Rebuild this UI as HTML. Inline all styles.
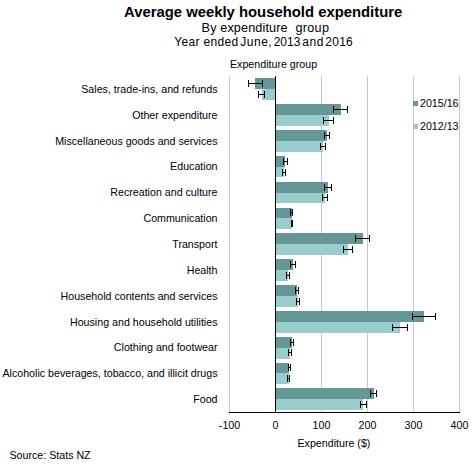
<!DOCTYPE html>
<html><head><meta charset="utf-8"><style>
html,body{margin:0;padding:0;background:#fff;}
body{width:476px;height:467px;overflow:hidden;position:relative;}
svg{position:absolute;left:0;top:0;}
text{font-family:"Liberation Sans",sans-serif;font-size:10.667px;fill:#000;}
.t{font-size:14.667px;font-weight:bold;}
.s{font-size:12px;}
</style></head><body>
<svg width="476" height="467" viewBox="0 0 476 467">
<rect width="476" height="467" fill="#fff"/>
<text class="t" x="124" y="16.6" style="font-size:14.85px">Average weekly household expenditure</text>
<text class="s" x="201.6" y="31.5" style="font-size:12.667px;letter-spacing:0.12px">By expenditure</text>
<text class="s" x="295.4" y="31.5" style="font-size:12.667px;letter-spacing:0.3px">group</text>
<text class="s" x="174.3" y="45.5" style="letter-spacing:0.3px">Year</text><text class="s" x="203.6" y="45.5" style="letter-spacing:0.3px">ended</text><text class="s" x="240.3" y="45.5" style="letter-spacing:0.5px">June,</text><text class="s" x="273.7" y="45.5">2013</text><text class="s" x="302.3" y="45.5" style="letter-spacing:0.6px">and</text><text class="s" x="325.2" y="45.5" style="letter-spacing:0.3px">2016</text>
<text x="230" y="67.6">Expenditure group</text>
<line x1="229.5" y1="76.0" x2="229.5" y2="412.0" stroke="#c9c9c9" stroke-width="1"/><line x1="321.5" y1="76.0" x2="321.5" y2="412.0" stroke="#c9c9c9" stroke-width="1"/><line x1="367.5" y1="76.0" x2="367.5" y2="412.0" stroke="#c9c9c9" stroke-width="1"/><line x1="413.5" y1="76.0" x2="413.5" y2="412.0" stroke="#c9c9c9" stroke-width="1"/><line x1="459.5" y1="76.0" x2="459.5" y2="412.0" stroke="#c9c9c9" stroke-width="1"/><rect x="255" y="78" width="20.0" height="11" fill="#659797"/><rect x="262" y="89" width="13.0" height="11" fill="#99cccc"/><rect x="276.0" y="104" width="65.0" height="11" fill="#659797"/><rect x="276.0" y="115" width="53.0" height="11" fill="#99cccc"/><rect x="276.0" y="130" width="51.0" height="11" fill="#659797"/><rect x="276.0" y="141" width="47.0" height="11" fill="#99cccc"/><rect x="276.0" y="156" width="9.0" height="11" fill="#659797"/><rect x="276.0" y="167" width="8.0" height="10" fill="#99cccc"/><rect x="276.0" y="182" width="52.0" height="11" fill="#659797"/><rect x="276.0" y="193" width="49.0" height="10" fill="#99cccc"/><rect x="276.0" y="208" width="16.0" height="10" fill="#659797"/><rect x="276.0" y="218" width="16.0" height="11" fill="#99cccc"/><rect x="276.0" y="233" width="87.0" height="11" fill="#659797"/><rect x="276.0" y="244" width="72.0" height="11" fill="#99cccc"/><rect x="276.0" y="259" width="17.0" height="11" fill="#659797"/><rect x="276.0" y="270" width="12.0" height="11" fill="#99cccc"/><rect x="276.0" y="285" width="21.0" height="11" fill="#659797"/><rect x="276.0" y="296" width="22.0" height="11" fill="#99cccc"/><rect x="276.0" y="311" width="148.0" height="11" fill="#659797"/><rect x="276.0" y="322" width="124.0" height="11" fill="#99cccc"/><rect x="276.0" y="337" width="16.0" height="11" fill="#659797"/><rect x="276.0" y="348" width="14.0" height="11" fill="#99cccc"/><rect x="276.0" y="363" width="13.0" height="10" fill="#659797"/><rect x="276.0" y="373" width="13.0" height="11" fill="#99cccc"/><rect x="276.0" y="388" width="98.0" height="11" fill="#659797"/><rect x="276.0" y="399" width="87.0" height="11" fill="#99cccc"/>
<text x="217.5" y="92.92" text-anchor="end">Sales, trade-ins, and refunds</text><text x="217.5" y="118.77" text-anchor="end">Other expenditure</text><text x="217.5" y="144.62" text-anchor="end">Miscellaneous goods and services</text><text x="217.5" y="170.46" text-anchor="end">Education</text><text x="217.5" y="196.31" text-anchor="end">Recreation and culture</text><text x="217.5" y="222.15" text-anchor="end">Communication</text><text x="217.5" y="248.00" text-anchor="end">Transport</text><text x="217.5" y="273.85" text-anchor="end">Health</text><text x="217.5" y="299.69" text-anchor="end">Household contents and services</text><text x="217.5" y="325.54" text-anchor="end">Housing and household utilities</text><text x="217.5" y="351.38" text-anchor="end">Clothing and footwear</text><text x="217.5" y="377.23" text-anchor="end">Alcoholic beverages, tobacco, and illicit drugs</text><text x="217.5" y="403.08" text-anchor="end">Food</text>
<line x1="275.5" y1="76.0" x2="275.5" y2="413.0" stroke="#000" stroke-width="1"/><line x1="229" y1="412.5" x2="460" y2="412.5" stroke="#000" stroke-width="1"/>
<path d="M248.5 83.5H262.5M248.5 80V87M262.5 80V87" stroke="#000" stroke-width="1" fill="none"/><path d="M258.5 94.5H264.5M258.5 91V98M264.5 91V98" stroke="#000" stroke-width="1" fill="none"/><path d="M333.5 109.5H347.5M333.5 106V113M347.5 106V113" stroke="#000" stroke-width="1" fill="none"/><path d="M323.5 120.5H333.5M323.5 117V124M333.5 117V124" stroke="#000" stroke-width="1" fill="none"/><path d="M324.5 135.5H329.5M324.5 132V139M329.5 132V139" stroke="#000" stroke-width="1" fill="none"/><path d="M320.5 146.5H325.5M320.5 143V150M325.5 143V150" stroke="#000" stroke-width="1" fill="none"/><path d="M283.5 161.5H287.5M283.5 158V165M287.5 158V165" stroke="#000" stroke-width="1" fill="none"/><path d="M282.5 172.5H285.5M282.5 169V176M285.5 169V176" stroke="#000" stroke-width="1" fill="none"/><path d="M324.5 187.5H331.5M324.5 184V191M331.5 184V191" stroke="#000" stroke-width="1" fill="none"/><path d="M322.5 197.5H327.5M322.5 194V201M327.5 194V201" stroke="#000" stroke-width="1" fill="none"/><path d="M290.5 212.5H292.5M290.5 209V216M292.5 209V216" stroke="#000" stroke-width="1" fill="none"/><path d="M291.5 223.5H292.5M291.5 220V227M292.5 220V227" stroke="#000" stroke-width="1" fill="none"/><path d="M355.5 238.5H369.5M355.5 235V242M369.5 235V242" stroke="#000" stroke-width="1" fill="none"/><path d="M343.5 249.5H352.5M343.5 246V253M352.5 246V253" stroke="#000" stroke-width="1" fill="none"/><path d="M290.5 264.5H295.5M290.5 261V268M295.5 261V268" stroke="#000" stroke-width="1" fill="none"/><path d="M286.5 275.5H289.5M286.5 272V279M289.5 272V279" stroke="#000" stroke-width="1" fill="none"/><path d="M295.5 290.5H298.5M295.5 287V294M298.5 287V294" stroke="#000" stroke-width="1" fill="none"/><path d="M296.5 301.5H299.5M296.5 298V305M299.5 298V305" stroke="#000" stroke-width="1" fill="none"/><path d="M412.5 316.5H435.5M412.5 313V320M435.5 313V320" stroke="#000" stroke-width="1" fill="none"/><path d="M392.5 327.5H407.5M392.5 324V331M407.5 324V331" stroke="#000" stroke-width="1" fill="none"/><path d="M290.5 342.5H293.5M290.5 339V346M293.5 339V346" stroke="#000" stroke-width="1" fill="none"/><path d="M288.5 352.5H291.5M288.5 349V356M291.5 349V356" stroke="#000" stroke-width="1" fill="none"/><path d="M288.5 367.5H290.5M288.5 364V371M290.5 364V371" stroke="#000" stroke-width="1" fill="none"/><path d="M287.5 378.5H289.5M287.5 375V382M289.5 375V382" stroke="#000" stroke-width="1" fill="none"/><path d="M370.5 393.5H376.5M370.5 390V397M376.5 390V397" stroke="#000" stroke-width="1" fill="none"/><path d="M360.5 404.5H366.5M360.5 401V408M366.5 401V408" stroke="#000" stroke-width="1" fill="none"/>
<rect x="413" y="101" width="5" height="5" fill="#659797"/>
<text x="420" y="106.6">2015/16</text>
<rect x="413" y="124" width="5" height="5" fill="#99cccc"/>
<text x="420" y="129.6">2012/13</text>
<text x="229.5" y="429" text-anchor="middle">-100</text><text x="275.5" y="429" text-anchor="middle">0</text><text x="321.5" y="429" text-anchor="middle">100</text><text x="367.5" y="429" text-anchor="middle">200</text><text x="413.5" y="429" text-anchor="middle">300</text><text x="459.5" y="429" text-anchor="middle">400</text>
<text x="297.5" y="446.8">Expenditure ($)</text>
<text x="9.5" y="458.9">Source: Stats NZ</text>
</svg>
</body></html>
